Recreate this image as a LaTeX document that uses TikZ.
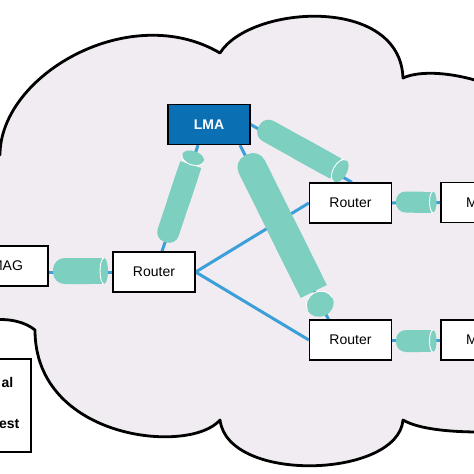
\documentclass[tikz,border=0pt]{standalone}
\usepackage{fontspec}
\setmainfont{Liberation Sans}
\definecolor{cloudfill}{HTML}{F0ECF2}
\definecolor{lmablue}{HTML}{0B70B3}
\definecolor{linkblue}{HTML}{3D9FD9}
\definecolor{tubeteal}{HTML}{7DCFBF}
\pgfdeclarelayer{bg}\pgfdeclarelayer{mid}\pgfsetlayers{bg,mid,main}
% #1 start (rounded end), #2 cap centre, #3 width, #4 cap x radius, #5 cap y radius, #6 gap
\newcommand\mytube[6]{%
  \pgfmathanglebetweenpoints{\pgfpointanchor{#1}{center}}{\pgfpointanchor{#2}{center}}%
  \let\tubeang\pgfmathresult
  \pgfpointdiff{\pgfpointanchor{#1}{center}}{\pgfpointanchor{#2}{center}}%
  \pgfgetlastxy{\tubedx}{\tubedy}%
  \pgfmathsetmacro\tubelen{veclen(\tubedx,\tubedy)}%
  \pgfmathsetmacro\tubeend{\tubelen-#6}%
  \pgfmathsetmacro\tubemid{\tubeend/2}%
  \pgfmathsetmacro\tuberad{0.45*#3}%
  \begin{scope}[shift={(#1)},rotate=\tubeang]
    \fill[tubeteal,rounded corners=\tuberad pt] (0pt,-#3pt/2) rectangle (\tubeend pt,#3pt/2);
    \fill[tubeteal] (\tubemid pt,-#3pt/2) rectangle (\tubeend pt,#3pt/2);
    \fill[tubeteal] (\tubelen pt,0pt) ellipse [x radius=#4pt, y radius=#5pt];
    \draw[white,line width=0.9pt] (\tubelen pt,#5pt) arc[start angle=90,end angle=270,x radius=#4pt,y radius=#5pt];
  \end{scope}}
\tikzset{
  box/.style={draw=black,line width=1.3pt,fill=white,minimum width=82pt,minimum height=40pt,inner sep=0pt,font=\fontsize{14}{16}\selectfont},
  lmabox/.style={box,fill=lmablue,text=white,font=\fontsize{14}{16}\selectfont\bfseries},
  legtext/.style={inner sep=0pt,anchor=east,font=\fontsize{14}{16}\selectfont\bfseries},
  link/.style={linkblue,line width=3pt},
  cloudline/.style={fill=cloudfill,draw=black,line width=2.8pt,line join=round}
}
\begin{document}
\begin{tikzpicture}[x=1pt,y=-1pt]
\useasboundingbox (0,0) rectangle (474,474);
% nodes
\node[lmabox] (lma) at (209,124.5) {LMA};
\node[box] (rt) at (350.5,203) {Router};
\node[box] (rl) at (154,272) {Router};
\node[box] (rb) at (350.5,340) {Router};
\node[box] (magl) at (7,266) {MAG};
\node[box] (magt) at (482,202.5) {MAG};
\node[box] (magb) at (482,340) {MAG};
\node[box,minimum width=102pt,minimum height=93pt] (legend) at (-20,405.5) {};
\node[legtext] (leg1) at (13.5,382) {al};
\node[legtext] (leg2) at (19.5,424) {est};
% tube end points
\coordinate (t1a) at (53,271);  \coordinate (t1b) at (104,271);
\coordinate (t2a) at (396,202); \coordinate (t2b) at (433,202);
\coordinate (t3a) at (396,341); \coordinate (t3b) at (433,341);
\coordinate (t4a) at (165,242); \coordinate (t4b) at (193,158);
\coordinate (t5a) at (246,155); \coordinate (t5b) at (320,304);
\coordinate (t6a) at (259,126); \coordinate (t6b) at (340,171);
\begin{pgfonlayer}{bg}
\path[cloudline] (0,155) .. controls (0,75) and (130,0) .. (220,53)
  .. controls (250,5) and (400,-5) .. (403,78)
  .. controls (420,70) and (455,72) .. (490,85)
  -- (490,432) -- (480,432)
  .. controls (455,432) and (420,430) .. (403,420)
  .. controls (398,478) and (228,484) .. (220,420)
  .. controls (190,455) and (35,440) .. (35,330)
  .. controls (25,322) and (10,318) .. (-10,320)
  -- (-10,155) -- cycle;
\end{pgfonlayer}
\begin{pgfonlayer}{mid}
\draw[link] (magl.east |- rl.west) -- (rl.west);
\draw[link] (rl.east) -- (rt.west);
\draw[link] (rl.east) -- (rb.west);
\draw[link] (rt.east) -- (magt.west);
\draw[link] (rb.east) -- (magb.west);
\draw[link] ([xshift=-11pt]lma.south) -- ([xshift=8pt]rl.north);
\draw[link] ([xshift=31pt]lma.south) -- ([xshift=-22pt]rb.north);
\draw[link] (lma.east) -- ([xshift=1.5pt]rt.north);
\mytube{t1a}{t1b}{26}{4}{13}{2}
\mytube{t2a}{t2b}{21}{3.5}{10.5}{2}
\mytube{t3a}{t3b}{22}{3.5}{11}{2}
\mytube{t4a}{t4b}{22}{7}{11.5}{7}
\mytube{t5a}{t5b}{29}{12.5}{14}{14}
\mytube{t6a}{t6b}{23}{7}{12.5}{5}
\end{pgfonlayer}
\end{tikzpicture}
\end{document}
